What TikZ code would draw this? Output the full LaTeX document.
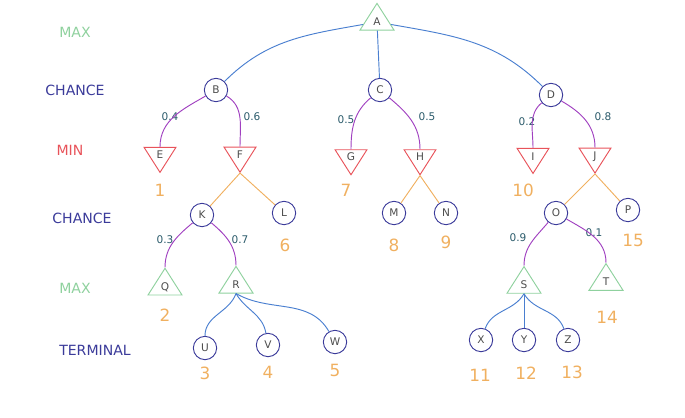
\documentclass[tikz,border=0pt]{standalone}
\usetikzlibrary{shapes.geometric,calc}
\usepackage{fontspec}
\setmainfont{DejaVu Sans}
\definecolor{gmax}{HTML}{8FD19E}
\definecolor{rmin}{HTML}{E8535A}
\definecolor{bch}{HTML}{3B3B9A}
\definecolor{orn}{HTML}{F0B060}
\definecolor{blu}{HTML}{4A7FD0}
\definecolor{pur}{HTML}{A040C0}
\definecolor{prob}{HTML}{2A5A6A}
\tikzset{x=0.03cm,y=-0.03cm,
 maxn/.style={draw=gmax,thick,isosceles triangle,shape border rotate=90,isosceles triangle apex angle=65,inner sep=1.5pt,font=\small,text=black!70,minimum height=0.8cm},
 minn/.style={draw=rmin,thick,isosceles triangle,shape border rotate=-90,isosceles triangle apex angle=65,inner sep=1.5pt,font=\small,text=black!70,minimum height=0.75cm},
 chn/.style={draw=bch,thick,circle,inner sep=1pt,minimum size=0.7cm,font=\small,text=black!70},
 val/.style={text=orn,font=\Large},
 pr/.style={text=prob,font=\small},
 lab/.style={font=\large},
 eb/.style={blu,thick}, ep/.style={pur,thick}, eo/.style={orn,thick}}
\begin{document}
\begin{tikzpicture}
\useasboundingbox (0,0) rectangle (685,417);
\node[lab,text=gmax] (l1) at (75,32) {MAX};
\node[lab,text=bch] (l2) at (75,90) {CHANCE};
\node[lab,text=rmin] (l3) at (70,150) {MIN};
\node[lab,text=bch] (l4) at (82,218) {CHANCE};
\node[lab,text=gmax] (l5) at (75,288) {MAX};
\node[lab,text=bch] (l6) at (95,350) {TERMINAL};
\node[maxn] (A) at (377,22) {A};
\node[chn] (B) at (216,90) {B};
\node[chn] (C) at (380,90) {C};
\node[chn] (D) at (551,95) {D};
\node[minn] (E) at (160,155) {E};
\node[minn] (F) at (240,155) {F};
\node[minn] (G) at (351,157) {G};
\node[minn] (H) at (420,157) {H};
\node[minn] (I) at (533,157) {I};
\node[minn] (J) at (595,157) {J};
\node[chn] (K) at (202,215) {K};
\node[chn] (L) at (284,213) {L};
\node[chn] (M) at (394,213) {M};
\node[chn] (N) at (446,213) {N};
\node[chn] (O) at (556,213) {O};
\node[chn] (P) at (628,210) {P};
\node[maxn] (Q) at (165,287) {Q};
\node[maxn] (R) at (236,285) {R};
\node[maxn] (S) at (524,285) {S};
\node[maxn] (T) at (606,282) {T};
\node[chn] (U) at (205,348) {U};
\node[chn] (V) at (268,345) {V};
\node[chn] (W) at (335,342) {W};
\node[chn] (X) at (481,340) {X};
\node[chn] (Y) at (524,340) {Y};
\node[chn] (Z) at (568,340) {Z};
\coordinate (Rb) at ($(R.left corner)!0.5!(R.right corner)$);
\coordinate (Sb) at ($(S.left corner)!0.5!(S.right corner)$);
\foreach \n/\x/\y in {1/160/190,7/346/190,10/523/190,6/285/245,8/394/245,9/446/242,15/633/240,2/165/315,14/607/317,3/205/373,4/268/372,5/335/370,11/480/375,12/526/373,13/572/372}
  \node[val] (v\n) at (\x,\y) {\n};
\foreach \n/\t/\x/\y in {a/0.4/170/117,b/0.6/252/117,c/0.5/346/120,d/0.5/427/117,e/0.2/527/122,f/0.8/603/117,g/0.3/165/240,h/0.7/240/240,i/0.9/518/238,j/0.1/594/233}
  \node[pr] (p\n) at (\x,\y) {\t};
\draw[eb] (A) to[out=190,in=45] (B);
\draw[eb] (A) -- (C);
\draw[eb] (A) to[out=-10,in=135] (D);
\draw[ep] (B) to[out=210,in=90] (E.north);
\draw[ep] (B) to[out=-30,in=90] (F.north);
\draw[ep] (C) to[out=220,in=90] (G.north);
\draw[ep] (C) to[out=-40,in=90] (H.north);
\draw[ep] (D) to[out=220,in=90] (I.north);
\draw[ep] (D) to[out=-30,in=90] (J.north);
\draw[eo] (F.apex) -- (K);
\draw[eo] (F.apex) -- (L);
\draw[eo] (H.apex) -- (M);
\draw[eo] (H.apex) -- (N);
\draw[eo] (J.apex) -- (O);
\draw[eo] (J.apex) -- (P);
\draw[ep] (K) to[out=220,in=90] (Q.apex);
\draw[ep] (K) to[out=-40,in=90] (R.apex);
\draw[ep] (O) to[out=230,in=90] (S.apex);
\draw[ep] (O) to[out=-30,in=90] (T.apex);
\draw[eb] (Rb) to[out=-110,in=90] (U);
\draw[eb] (Rb) to[out=-60,in=100] (V);
\draw[eb] (Rb) to[out=-30,in=120] (W);
\draw[eb] (Sb) to[out=-120,in=70] (X);
\draw[eb] (Sb) -- (Y);
\draw[eb] (Sb) to[out=-60,in=110] (Z);
\end{tikzpicture}
\end{document}
